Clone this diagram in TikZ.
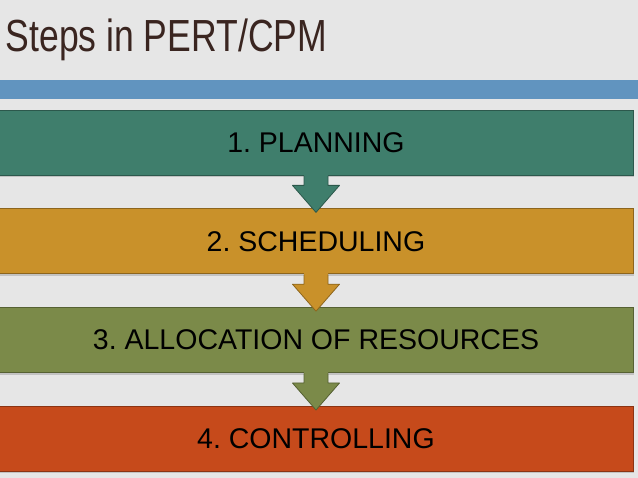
\documentclass[tikz,border=0pt]{standalone}
\usepackage{fontspec}
\setmainfont{Liberation Sans}
\frenchspacing
\usetikzlibrary{positioning,shadows}
\definecolor{bgC}{HTML}{E6E6E6}
\definecolor{barC}{HTML}{6194BF}
\definecolor{titleC}{HTML}{3A2520}
\definecolor{planC}{HTML}{3F7E6C}
\definecolor{schedC}{HTML}{C9912A}
\definecolor{allocC}{HTML}{7B8A49}
\definecolor{ctrlC}{HTML}{C64A1B}
\begin{document}
\begin{tikzpicture}[
				stepbox/.style={
					rectangle,
					minimum width=634pt,
					minimum height=65pt,
					inner sep=0pt,
					draw=#1!70!black,
					fill=#1,
					line width=0.8pt,
					text=black,
					font=\fontsize{28.5}{32}\selectfont,
					drop shadow={opacity=0.35,shadow xshift=1pt,shadow yshift=-2pt}
				},
				node distance=33pt
			]
			\useasboundingbox (0,0) rectangle (638pt,-478pt);
			\fill[bgC] (0,0) rectangle (638pt,-478pt);
			\node[anchor=base west,inner sep=0pt,xscale=0.79,text=titleC,
			font=\fontsize{45}{50}\selectfont] 
			(title) at (5.5pt,-52pt) {Steps in PERT/CPM};
			\fill[barC] (0,-80pt) rectangle (638pt,-99pt);
			
			\node[stepbox=planC] at (316pt,-142.5pt) 
			(plan) {1. PLANNING};
			\node[stepbox=schedC,below=of plan] 
			(sched) {2. SCHEDULING};
			\node[stepbox=allocC,below=of sched] 
			(alloc) {3. ALLOCATION OF RESOURCES};
			\node[stepbox=ctrlC,below=of alloc] 
			(ctrl) {4. CONTROLLING};
			
			\foreach \a/\b/\c in {plan/sched/planC,sched/alloc/schedC,alloc/ctrl/allocC}{
				\fill[\c] ([xshift=-12pt,yshift=2pt]\a.south) -- ([xshift=-12pt,yshift=-10pt]\a.south) 
				-- ([xshift=-23.5pt,yshift=-10pt]\a.south) -- ([yshift=-4pt]\b.north) 
				-- ([xshift=23.5pt,yshift=-10pt]\a.south) -- ([xshift=12pt,yshift=-10pt]\a.south) 
				-- ([xshift=12pt,yshift=2pt]\a.south) -- cycle;
				\draw[\c!70!black,line width=0.8pt,line join=round] ([xshift=-12pt,yshift=-0.4pt]\a.south) 
				-- ([xshift=-12pt,yshift=-10pt]\a.south) -- ([xshift=-23.5pt,yshift=-10pt]\a.south) 
				-- ([yshift=-4pt]\b.north) -- ([xshift=23.5pt,yshift=-10pt]\a.south) 
				-- ([xshift=12pt,yshift=-10pt]\a.south) -- ([xshift=12pt,yshift=-0.4pt]\a.south);
			}
		\end{tikzpicture}
\end{document}
